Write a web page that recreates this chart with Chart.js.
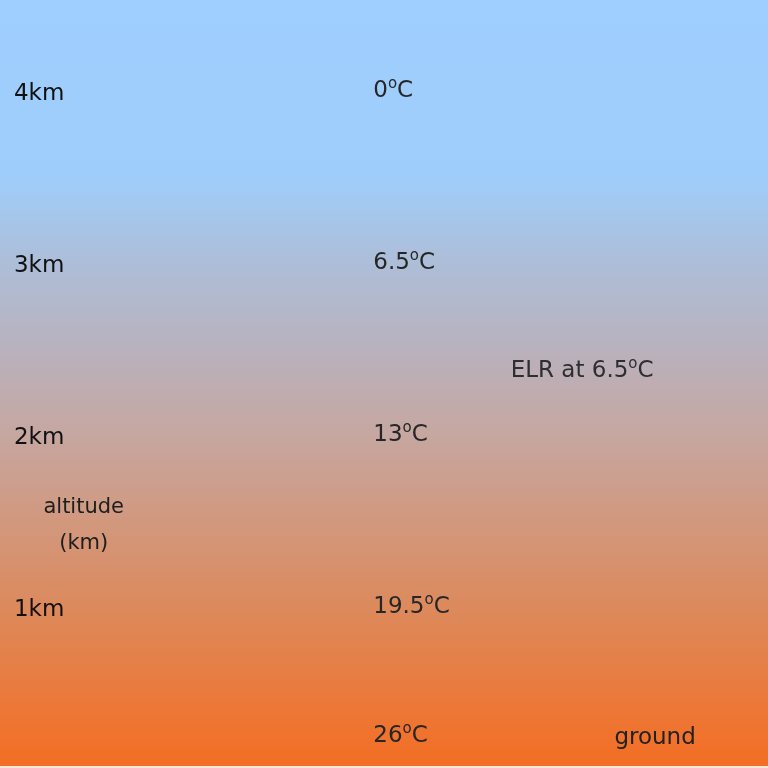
<!DOCTYPE html>
<html lang="en">
<head>
    <meta charset="UTF-8">
    <title>Environmental lapse rate</title>
    <script src="https://cdn.jsdelivr.net/npm/chart.js"></script>
    <style>
        html, body { margin: 0; padding: 0; background: #fbe6d8; }
        .chart-box { width: 768px; height: 766px; }
    </style>
</head>
<body>
    <div class="chart-box"><canvas id="elr-chart"></canvas></div>

    <script>
        // altitude rows on the left (km)
        const altitudes = [4, 3, 2, 1];
        const altitudeLabels = ['4km', '3km', '2km', '1km'];

        // temperature column; the ground row sits just above the bottom edge
        const tempAltitudes = [4, 3, 2, 1, 0.25];
        const temperatures = [0, 6.5, 13, 19.5, 26];

        const lapseRate = 6.5;          // °C per km
        const groundLabel = 'ground';
        const axisTitle = ['altitude', '(km)'];

        const FONT = '"DejaVu Sans", Verdana, sans-serif';

        // draws "value" + superscript o + "C"
        function drawDegrees(ctx, value, x, y, size, color) {
            ctx.fillStyle = color;
            ctx.textAlign = 'left';
            ctx.textBaseline = 'middle';
            ctx.font = size + 'px ' + FONT;
            const num = String(value);
            ctx.fillText(num, x, y);
            let w = ctx.measureText(num).width;
            ctx.font = Math.round(size * 0.65) + 'px ' + FONT;
            ctx.fillText('o', x + w, y - size * 0.3);
            w += ctx.measureText('o').width;
            ctx.font = size + 'px ' + FONT;
            ctx.fillText('C', x + w, y);
            return w + ctx.measureText('C').width;
        }

        const skyPlugin = {
            id: 'sky',
            beforeDraw(chart) {
                const { ctx, chartArea: { left, top, right, bottom } } = chart;
                const g = ctx.createLinearGradient(0, top, 0, bottom);
                g.addColorStop(0, '#9fcfff');
                g.addColorStop(0.23, '#9fcdfb');
                g.addColorStop(0.35, '#aebdd6');
                g.addColorStop(0.45, '#b8b2bf');
                g.addColorStop(0.565, '#c6a7a1');
                g.addColorStop(0.79, '#dc8a5d');
                g.addColorStop(0.95, '#ef7430');
                g.addColorStop(1, '#f36e24');
                ctx.save();
                ctx.fillStyle = g;
                ctx.fillRect(left, top, right - left, bottom - top);
                ctx.restore();
            }
        };

        const labelPlugin = {
            id: 'labels',
            afterDatasetsDraw(chart) {
                const { ctx, scales: { x, y } } = chart;
                ctx.save();

                // km labels
                ctx.font = '23px ' + FONT;
                ctx.fillStyle = '#111';
                ctx.textAlign = 'center';
                ctx.textBaseline = 'middle';
                altitudes.forEach((a, i) => {
                    ctx.fillText(altitudeLabels[i], x.getPixelForValue(0.51), y.getPixelForValue(a) + 3);
                });

                // temperatures
                temperatures.forEach((t, i) => {
                    drawDegrees(ctx, t, x.getPixelForValue(4.86), y.getPixelForValue(tempAltitudes[i]), 23, '#262626');
                });

                // lapse rate note
                const ex = x.getPixelForValue(6.65), ey = y.getPixelForValue(2.37);
                drawDegrees(ctx, 'ELR at ' + lapseRate, ex, ey, 23, '#2e2e2e');

                // ground
                ctx.font = '23px ' + FONT;
                ctx.textAlign = 'center';
                ctx.fillStyle = '#222';
                ctx.fillText(groundLabel, x.getPixelForValue(8.53), y.getPixelForValue(0.24));

                // axis title
                ctx.font = '21px ' + FONT;
                ctx.fillStyle = '#1e1e1e';
                ctx.fillText(axisTitle[0], x.getPixelForValue(1.09), y.getPixelForValue(1.58));
                ctx.fillText(axisTitle[1], x.getPixelForValue(1.09), y.getPixelForValue(1.37));

                ctx.restore();
            }
        };

        new Chart(document.getElementById('elr-chart'), {
            type: 'scatter',
            data: {
                datasets: [{
                    label: 'temperature',
                    data: temperatures.map((t, i) => ({ x: 4.86, y: tempAltitudes[i] })),
                    pointRadius: 0
                }]
            },
            options: {
                responsive: true,
                maintainAspectRatio: false,
                animation: false,
                layout: { padding: 0 },
                scales: {
                    x: { type: 'linear', min: 0, max: 10, display: false },
                    y: { type: 'linear', min: 0.076, max: 4.529, display: false }
                },
                plugins: {
                    legend: { display: false },
                    tooltip: { enabled: false }
                }
            },
            plugins: [skyPlugin, labelPlugin]
        });
    </script>
</body>
</html>
